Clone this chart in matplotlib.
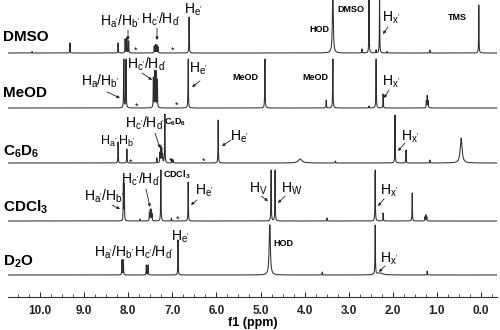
import numpy as np
import matplotlib
matplotlib.use("Agg")
import matplotlib.pyplot as plt

plt.rcParams['font.family'] = ['Liberation Sans', 'DejaVu Sans']
plt.rcParams['mathtext.fontset'] = 'custom'
plt.rcParams['mathtext.rm'] = 'Liberation Sans'
plt.rcParams['mathtext.it'] = 'Liberation Sans:italic'
plt.rcParams['mathtext.bf'] = 'Liberation Sans:bold'

# ---------------- data (peak lists) ----------------
solvents = ["DMSO", "MeOD", r"C$_\mathregular{6}$D$_\mathregular{6}$",
            r"CDCl$_\mathregular{3}$", r"D$_\mathregular{2}$O"]

dmso_ppm = [10.18, 9.32, 8.23, 8.07, 8.03, 7.99, 7.41, 7.38, 7.35, 7.32, 6.62,
            3.36, 2.70, 2.54, 2.38, 2.30, 2.13, 1.16, 0.05]
dmso_h = [1.5, 10, 10, 14, 15, 12, 7, 8, 8, 6, 36,
          60, 4, 60, 3, 60, 1.5, 3, 48]

meod_ppm = [8.10, 8.05, 7.43, 7.40, 7.37, 7.34, 6.64, 4.90, 3.51, 3.36, 2.54,
            2.38, 2.22, 1.24, 1.22, 1.20]
meod_h = [60, 60, 30, 36, 36, 28, 60, 60, 8, 60, 2,
          60, 14, 7, 12, 7]

c6d6_ppm = [8.23, 8.03, 7.35, 7.28, 7.26, 7.24, 7.22, 7.17, 7.01, 6.98, 5.96,
            4.10, 3.30, 1.95, 1.70, 1.16, 0.45]
c6d6_h = [21, 14, 5, 10, 16, 14, 8, 60, 4, 3, 43,
          4, 2, 48, 13, 3, 25]

cdcl3_ppm = [8.11, 8.09, 7.73, 7.52, 7.50, 7.48, 7.46, 7.26, 7.02, 6.64,
             4.76, 4.67, 3.49, 2.40, 2.22, 1.56, 1.27, 1.25, 1.23]
cdcl3_h = [36, 36, 2, 8, 11, 11, 7, 60, 3, 39,
           60, 60, 3, 60, 8, 28, 4, 6, 4]

d2o_ppm = [8.14, 8.11, 7.59, 7.55, 6.87, 4.79, 3.60, 2.40, 2.30, 1.22]
d2o_h = [15, 15, 10, 10, 35, 60, 3, 60, 2, 4]

# ---------------- layout ----------------
W, H = 500, 330
fig = plt.figure(figsize=(W / 100, H / 100), dpi=100)
ax_left, ax_right, ax_bot = 8, 497, 297
ax = fig.add_axes([ax_left / W, (H - ax_bot) / H, (ax_right - ax_left) / W, ax_bot / H])

PX_PER_PPM = 44.1
def ppm_of(px):
    return 10 - (px - 40) / PX_PER_PPM

def P(px, py):
    return (ppm_of(px), ax_bot - py)

x0, x1 = ppm_of(ax_left), ppm_of(ax_right)
ax.set_xlim(x0, x1)
ax.set_ylim(0, ax_bot)

x = np.linspace(x0, x1, 30000)

def spectrum(ppm, h, widths=None):
    y = np.zeros_like(x)
    for i, (p, hh) in enumerate(zip(ppm, h)):
        w = 0.0045 if widths is None else widths.get(i, 0.0045)
        y += hh * w ** 2 / ((x - p) ** 2 + w ** 2)
    return y

line_kw = dict(color='#2e2e2e', lw=0.75)

specs = [
    (dmso_ppm, dmso_h, {11: 0.012}, 53, 70),
    (meod_ppm, meod_h, {}, 108, 49),
    (c6d6_ppm, c6d6_h, {11: 0.05, 16: 0.025}, 163, 49),
    (cdcl3_ppm, cdcl3_h, {}, 221, 51),
    (d2o_ppm, d2o_h, {5: 0.014, 8: 0.08}, 275, 50),
]
for ppm, h, wd, base_px, clip in specs:
    base = ax_bot - base_px
    y = np.minimum(spectrum(ppm, h, wd), clip)
    ax.plot(x, base + y, **line_kw)

# solvent names
for name, py in zip(solvents, [37, 93, 152, 207, 262]):
    ax.text(*P(3, py), name, ha='left', va='center', fontsize=11, fontweight='bold')

def Hl(a, b=None, pa=True, pb=True):
    s = r"H$_{\mathregular{%s%s}}$" % (a, "'" if pa else "")
    if b is not None:
        s += r"/H$_{\mathregular{%s%s}}$" % (b, "'" if pb else "")
    return s

def lab(s, px, py, fs=10, **kw):
    ax.text(*P(px, py), s, ha='center', va='center', fontsize=fs, **kw)

def small(s, px, py):
    ax.text(*P(px, py), s, ha='center', va='center', fontsize=6.5, fontweight='bold')

def arr(p0, p1):
    ax.annotate('', xy=P(*p1), xytext=P(*p0),
                arrowprops=dict(arrowstyle='-|>', lw=0.6, color='#222222',
                                mutation_scale=4, shrinkA=0, shrinkB=0))

def star(px, py):
    ax.text(*P(px, py), '*', ha='center', va='center', fontsize=6.5)

# DMSO
lab(Hl('a', 'b'), 120, 21)
arr((128, 30), (128, 40))
lab(Hl('c', 'd'), 161, 19)
arr((157, 28), (157, 40))
lab(Hl('e'), 193, 10)
small('HOD', 319, 29)
small('DMSO', 351, 10)
lab(Hl('x'), 391, 18)
arr((388, 27), (383, 34))
small('TMS', 457, 17)
star(136, 50); star(173, 50)

# MeOD
lab(Hl('a', 'b', pa=False), 100, 81)
arr((107, 92), (120, 98))
lab(Hl('c', 'd'), 147, 64)
arr((142, 73), (152, 80))
lab(Hl('e'), 198, 69)
arr((200, 81), (192, 87))
small('MeOD', 245, 78)
small('MeOD', 315, 78)
lab(Hl('x'), 391, 82)
arr((389, 90), (384, 98))
star(137, 106); star(177, 105)

# C6D6
lab(Hl('a'), 109, 141, fs=9)
lab(Hl('b'), 127, 141, fs=9)
lab(Hl('c', 'd'), 145, 123)
arr((155, 133), (160, 148))
small(r"C$_\mathregular{6}$D$_\mathregular{6}$", 175, 122)
lab(Hl('e'), 239, 137)
arr((231, 140), (222, 146))
lab(Hl('x'), 410, 137)
arr((405, 143), (398, 151))
star(131, 162); star(171, 161); star(204, 161)

# CDCl3
lab(Hl('a', 'b'), 104, 196)
arr((112, 205), (120, 209))
lab(Hl('c', 'd'), 141, 179)
arr((146, 189), (150, 207))
small(r"CDCl$_\mathregular{3}$", 177, 175)
lab(Hl('e'), 204, 191)
arr((197, 200), (191, 205))
lab(r"H$_{\mathregular{V}}$", 258, 189)
arr((261, 196), (268, 201))
lab(r"H$_{\mathregular{W}}$", 292, 189)
arr((285, 196), (278, 203))
lab(Hl('x'), 389, 191)
arr((384, 199), (378, 206))
star(178, 219)

# D2O
lab(Hl('a', 'b'), 114, 252)
lab(Hl('c', 'd'), 154, 252)
lab(Hl('e'), 180, 237)
small('HOD', 283, 243)
lab(Hl('x'), 389, 259)
arr((385, 266), (379, 272))

# axes styling
for s in ['left', 'right', 'top']:
    ax.spines[s].set_visible(False)
ax.spines['bottom'].set_linewidth(0.8)
ax.spines['bottom'].set_color('#333333')
ax.set_yticks([])
ax.set_xticks(np.arange(10, -0.01, -1.0))
ax.set_xticks(np.arange(10.5, -0.3, -0.25), minor=True)
ax.set_xticklabels(["%.1f" % v for v in np.arange(10, -0.01, -1.0)],
                   fontsize=8.5, fontweight='bold')
ax.tick_params(axis='x', which='major', direction='in', length=3.5, width=0.7, pad=6, colors='#222222')
ax.tick_params(axis='x', which='minor', direction='in', length=2.5, width=0.6, colors='#333333')
ax.set_xlabel('f1 (ppm)', fontsize=9, fontweight='bold', labelpad=0)

fig.savefig('out.png', dpi=100)
